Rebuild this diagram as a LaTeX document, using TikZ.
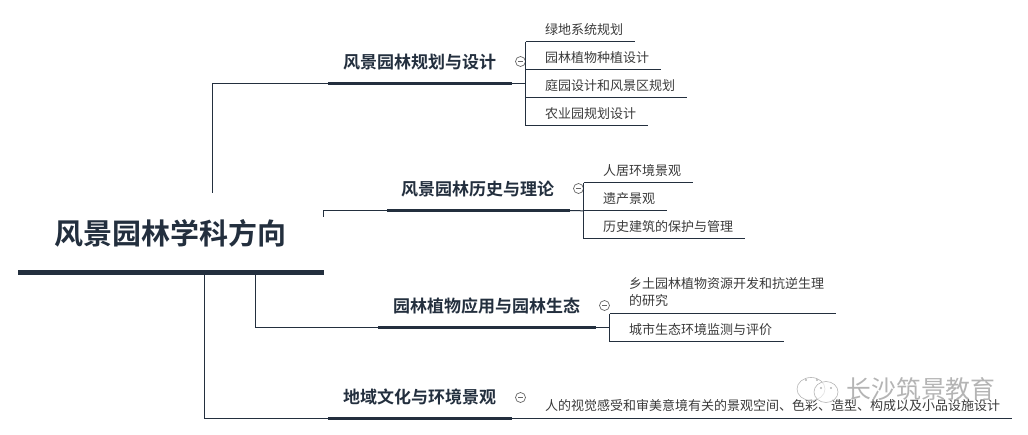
\documentclass[tikz,border=0pt]{standalone}
\usepackage{fontspec}
\newfontfamily\cjk{Noto Sans CJK SC}
\newfontfamily\cjkb{Noto Sans CJK SC Bold}[]
\definecolor{ink}{HTML}{232F3E}
\definecolor{leaf}{HTML}{3A3A3A}
\definecolor{wm}{HTML}{B4B4B4}
\tikzset{
  x=1pt,y=-1pt,
  titletext/.style={inner sep=0pt,text=ink,font={\cjkb\fontsize{29}{32}\selectfont}},
  headtext/.style={inner sep=0pt,text=ink,font={\cjkb\fontsize{17}{20}\selectfont}},
  leaftext/.style={inner sep=0pt,anchor=west,text=leaf,font={\cjk\fontsize{13}{17}\selectfont}},
  wmtext/.style={inner sep=0pt,anchor=west,text=wm,font={\cjk\fontsize{24.8}{26}\selectfont}},
  thin line/.style={draw=ink,line width=1pt},
  thick bar/.style={draw=ink,line width=3.6pt},
  title bar/.style={draw=ink,line width=5pt},
  toggle/.style={circle,draw=black!60,line width=.7pt,minimum size=10pt,inner sep=0pt,
    path picture={\draw[black!60,line width=.7pt] ([xshift=-2.6pt]path picture bounding box.center) -- ([xshift=2.6pt]path picture bounding box.center);}},
}
\begin{document}
\begin{tikzpicture}
\useasboundingbox (0,0) rectangle (1028,435);
% title
\node[titletext] (title) at (170.5,233.5) {风景园林学科方向};
\coordinate (tl) at (18,272.7); \coordinate (tr) at (323.5,272.7);
\draw[title bar] (tl) -- (tr);
% branch heads
\node[headtext] (h1) at (419.5,62) {风景园林规划与设计};
\node[headtext] (h2) at (477.5,189) {风景园林历史与理论};
\node[headtext] (h3) at (486.5,306) {园林植物应用与园林生态};
\node[headtext] (h4) at (419.5,397) {地域文化与环境景观};
\node[toggle] (t1) at (520.5,61.5) {};
\node[toggle] (t2) at (578.5,188.5) {};
\node[toggle] (t3) at (604.5,305.5) {};
\node[toggle] (t4) at (520.5,397.5) {};
% branch bars
\coordinate (b1l) at (328,83.6);  \coordinate (b1r) at (512,83.6);
\coordinate (b2l) at (387,210.6); \coordinate (b2r) at (570,210.6);
\coordinate (b3l) at (378,327.6); \coordinate (b3r) at (596,327.6);
\coordinate (b4l) at (328,418.6); \coordinate (b4r) at (512,418.6);
\draw[thick bar] (b1l) -- (b1r);
\draw[thick bar] (b2l) -- (b2r);
\draw[thick bar] (b3l) -- (b3r);
\draw[thick bar] (b4l) -- (b4r);
% trunk connectors
\coordinate (s1) at (212,193);
\coordinate (s2) at (323.5,217);
\coordinate (s3) at (255.5,272.7);
\coordinate (s4) at (204,272.7);
\draw[thin line] (s1) |- (b1l);
\draw[thin line] (s2) |- (b2l);
\draw[thin line] (s3) |- (b3l);
\draw[thin line] (s4) |- (b4l);
% leaves, group 1
\node[leaftext] (a1) at (545,29.5) {绿地系统规划};
\node[leaftext] (a2) at (545,57.5) {园林植物种植设计};
\node[leaftext] (a3) at (545,85.5) {庭园设计和风景区规划};
\node[leaftext] (a4) at (545,113.5) {农业园规划设计};
\coordinate (a1s) at (525.5,41.8); \coordinate (a1e) at (635,41.8);
\coordinate (a2s) at (525.5,69.8); \coordinate (a2e) at (661,69.8);
\coordinate (a3s) at (525.5,97.8); \coordinate (a3e) at (687,97.8);
\coordinate (a4s) at (525.5,125.8); \coordinate (a4e) at (648,125.8);
\coordinate (a0) at (525.5,83.6);
\draw[thin line] (a1s) -- (a4s);
\draw[thin line] (b1r) -- (a0);
\draw[thin line] (a1s) -- (a1e);
\draw[thin line] (a2s) -- (a2e);
\draw[thin line] (a3s) -- (a3e);
\draw[thin line] (a4s) -- (a4e);
% leaves, group 2
\node[leaftext] (c1) at (603,170.5) {人居环境景观};
\node[leaftext] (c2) at (603,198.5) {遗产景观};
\node[leaftext] (c3) at (603,226.5) {历史建筑的保护与管理};
\coordinate (c1s) at (583.5,182.8); \coordinate (c1e) at (692.5,182.8);
\coordinate (c2s) at (583.5,210.8); \coordinate (c2e) at (666.5,210.8);
\coordinate (c3s) at (583.5,238.8); \coordinate (c3e) at (745,238.8);
\draw[thin line] (c1s) -- (c3s);
\draw[thin line] (b2r) -- (c2s);
\draw[thin line] (c1s) -- (c1e);
\draw[thin line] (c2s) -- (c2e);
\draw[thin line] (c3s) -- (c3e);
% leaves, group 3
\node[leaftext,align=left] (d1) at (629,292.5) {乡土园林植物资源开发和抗逆生理\\的研究};
\node[leaftext] (d2) at (629,329.5) {城市生态环境监测与评价};
\coordinate (d1s) at (609.5,313.8); \coordinate (d1e) at (836,313.8);
\coordinate (d2s) at (609.5,341.8); \coordinate (d2e) at (783.5,341.8);
\coordinate (d0) at (609.5,327.6);
\draw[thin line] (d1s) -- (d2s);
\draw[thin line] (b3r) -- (d0);
\draw[thin line] (d1s) -- (d1e);
\draw[thin line] (d2s) -- (d2e);
% leaf, group 4
\node[leaftext] (e1) at (545,406) {人的视觉感受和审美意境有关的景观空间、色彩、造型、构成以及小品设施设计};
\coordinate (e1e) at (1012,418.6);
\draw[thin line] (b4r) -- (e1e);
% watermark
\node[wmtext] (wm) at (846.5,389) {长沙筑景教育};
\draw[wm,line width=.6pt,fill=white,fill opacity=.6] (811,389) ellipse [x radius=14,y radius=11.5];
\draw[wm,line width=.6pt,fill=white,fill opacity=.6] (826,392) ellipse [x radius=12,y radius=10.5];
\foreach \p in {(806,380),(817,380),(821,388),(831,388)} \fill[wm] \p circle (1.2);
\end{tikzpicture}
\end{document}
